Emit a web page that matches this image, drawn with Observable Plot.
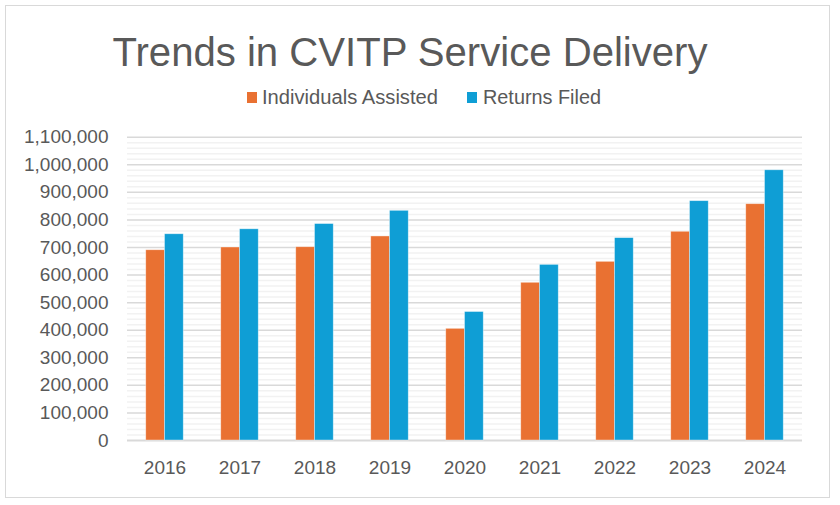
<!DOCTYPE html>
<html>
<head>
<meta charset="utf-8">
<script src="https://cdn.jsdelivr.net/npm/d3@7"></script>
<script src="https://cdn.jsdelivr.net/npm/@observablehq/plot@0.6"></script>
<style>
  html, body { margin: 0; padding: 0; background: #fff; }
  #wrap { position: relative; width: 840px; height: 505px; overflow: hidden; font-family: "Liberation Sans", Arial, sans-serif; }
  #border { position: absolute; left: 5px; top: 5px; width: 825px; height: 493px; box-sizing: border-box; border: 1.5px solid #d9d9d9; }
  #header { position: absolute; left: 0; top: 0; }
  #chart { position: absolute; left: 0; top: 115px; }
</style>
</head>
<body>
<div id="wrap">
  <div id="border"></div>
  <svg id="header" width="840" height="115"></svg>
  <div id="chart"></div>
</div>
<script>
const years = ["2016", "2017", "2018", "2019", "2020", "2021", "2022", "2023", "2024"];
const individualsAssisted = [690000, 700000, 701000, 740000, 405000, 572000, 648000, 757000, 857000];
const returnsFiled = [748000, 766000, 785000, 833000, 466000, 637000, 734000, 868000, 980000];
const seriesNames = ["Individuals Assisted", "Returns Filed"];
const seriesColors = ["#E97132", "#0F9ED5"];
const majorTicks = [0, 100000, 200000, 300000, 400000, 500000, 600000, 700000, 800000, 900000, 1000000, 1100000];
const minorTicks = d3.range(0, 1100001, 20000).filter(v => v % 100000 !== 0);
const titleText = "Trends in CVITP Service Delivery";

const table = years.flatMap((yr, i) => [
  {year: yr, series: seriesNames[0], value: individualsAssisted[i]},
  {year: yr, series: seriesNames[1], value: returnsFiled[i]}
]);

// Header: title + legend
const header = d3.select("#header");
header.append("text")
  .attr("x", 410).attr("y", 66)
  .attr("text-anchor", "middle")
  .attr("font-family", "'Liberation Sans', Arial, sans-serif")
  .attr("font-size", 40)
  .attr("fill", "#595959")
  .attr("textLength", 595)
  .attr("lengthAdjust", "spacingAndGlyphs")
  .text(titleText);

const legendItems = [
  {name: seriesNames[0], color: seriesColors[0], sx: 247, tx: 262, w: 176},
  {name: seriesNames[1], color: seriesColors[1], sx: 467, tx: 483, w: 118}
];
for (const it of legendItems) {
  header.append("rect").attr("x", it.sx).attr("y", 92).attr("width", 10).attr("height", 11).attr("fill", it.color);
  header.append("text")
    .attr("x", it.tx).attr("y", 103.5)
    .attr("font-family", "'Liberation Sans', Arial, sans-serif")
    .attr("font-size", 19.5)
    .attr("fill", "#595959")
    .attr("textLength", it.w)
    .attr("lengthAdjust", "spacingAndGlyphs")
    .text(it.name);
}

const chart = Plot.plot({
  width: 840,
  height: 375,
  marginLeft: 125,
  marginRight: 37,
  marginTop: 21.7,
  marginBottom: 50,
  style: {fontFamily: "'Liberation Sans', Arial, sans-serif", fontSize: "19px", color: "#595959", background: "transparent", overflow: "visible"},
  fx: {domain: years, padding: 0, label: null, tickSize: 0, tickPadding: 20, axis: "bottom"},
  x: {domain: seriesNames, axis: null, paddingInner: 0, paddingOuter: 1, round: false},
  y: {domain: [0, 1100000], ticks: majorTicks, tickFormat: d3.format(","), tickSize: 0, tickPadding: 19, label: null},
  color: {domain: seriesNames, range: seriesColors},
  marks: [
    Plot.ruleY(minorTicks, {stroke: "#f2f2f2", strokeWidth: 1.5}),
    Plot.ruleY(majorTicks.filter(v => v > 0), {stroke: "#d9d9d9", strokeWidth: 1.5}),
    Plot.ruleY([0], {stroke: "#d9d9d9", strokeWidth: 2}),
    Plot.barY(table, {fx: "year", x: "series", y: "value", fill: "series", stroke: "#ffffff", strokeOpacity: 0.5, strokeWidth: 0.75})
  ]
});
document.getElementById("chart").appendChild(chart);
</script>
</body>
</html>
